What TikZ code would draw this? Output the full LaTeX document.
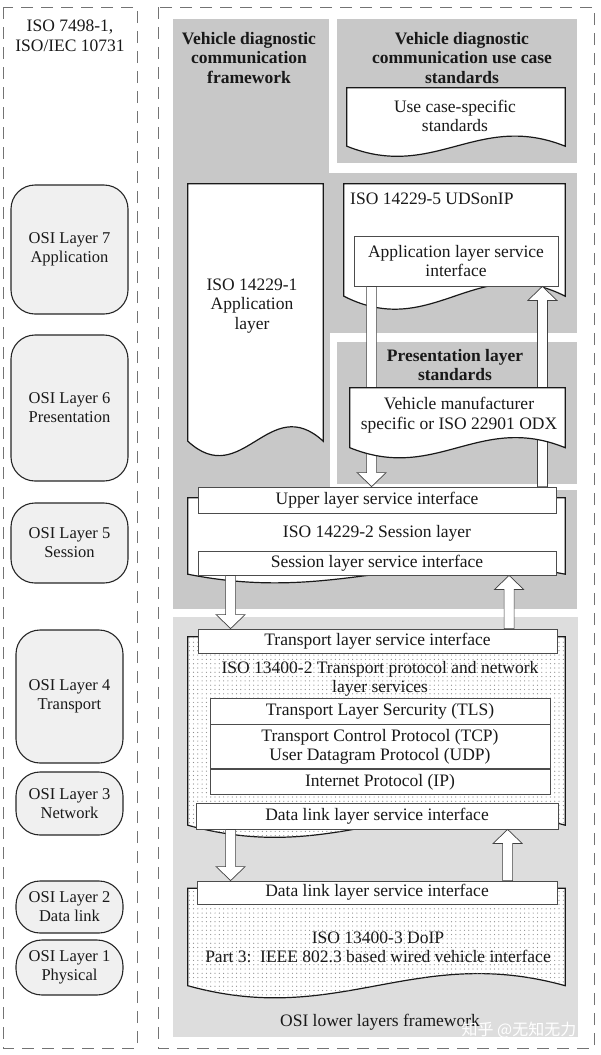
\documentclass[tikz,border=0pt]{standalone}
\usepackage{fontspec}
\setmainfont{Liberation Serif}
\newfontfamily\cjkfont{Noto Sans CJK SC}
\usetikzlibrary{calc,positioning,patterns.meta}
\definecolor{framegray}{RGB}{200,200,200}
\definecolor{lowgray}{RGB}{221,221,221}
\definecolor{osifill}{RGB}{240,240,240}
\newcommand{\wavydoc}[3][docfill]{%
  \draw[#1] (#2.south west) -- (#2.north west) -- (#2.north east) -- (#2.south east)
    .. controls ($(#2.south west)!0.6!(#2.south east)+(0,-#3)$) and ($(#2.south west)!0.4!(#2.south east)+(0,#3)$) .. (#2.south west) -- cycle;}
\begin{document}
\begin{tikzpicture}[x=1pt,y=-1pt]
        \tikzstyle{every node}=[font=\fontsize{17.5}{19.5}\selectfont, text=black!90, inner sep=0pt, align=center]
        \tikzstyle{frame}=[draw=black!55, line width=0.9pt, dash pattern=on 12pt off 8pt]
        \tikzstyle{osi}=[draw=black!85, line width=1.1pt, fill=osifill, rounded corners=24pt, minimum width=117, font=\fontsize{16.5}{19}\selectfont]
        \tikzstyle{heading}=[font=\bfseries\fontsize{17.5}{19.5}\selectfont]
        \tikzstyle{docgeom}=[minimum width=217, minimum height=58]
        \tikzstyle{docfill}=[draw=black!90, line width=1.2pt, fill=white]
        \tikzstyle{dotfill}=[docfill, postaction={pattern={Dots[distance=4.3pt,radius=0.6pt]}, pattern color=black!45}]
        \tikzstyle{iface}=[draw=black!70, line width=0.8pt, fill=white, minimum width=358, minimum height=24]
        \tikzstyle{stackrow}=[draw=black!70, line width=0.8pt, fill=white, minimum width=340]
        \tikzstyle{hollow}=[draw=black!75, line width=0.7pt, fill=white, to path={let \p1=(\tikztostart), \p2=(\tikztotarget), \n1={ifthenelse(\y1>\y2,14,-14)} in ({\x1-5pt},\y1) -- ({\x1-5pt},{\y2+\n1*1pt}) -- ({\x1-14.5pt},{\y2+\n1*1pt}) -- (\x1,\y2) -- ({\x1+14.5pt},{\y2+\n1*1pt}) -- ({\x1+5pt},{\y2+\n1*1pt}) -- ({\x1+5pt},\y1) -- cycle}]
        \useasboundingbox (0,0) rectangle (600,1055);
        \draw[frame] (3,7) rectangle (137,1048);
        \draw[frame] (158,7) rectangle (594,1048);
        \fill[framegray] (173,19) rectangle (577,609);
        \fill[white] (329,19) rectangle (578,173);
        \fill[framegray] (337,19) rectangle (577,163);
        \fill[white] (330,333) rectangle (578,490);
        \fill[framegray] (337,342) rectangle (577,484);
        \fill[lowgray] (173,617) rectangle (578,1037);

        \node (norm) at (70,36) {ISO 7498-1,\\ISO/IEC 10731};
        \node [osi, minimum height=129] (osi7) at (69.5,249.5) {OSI Layer 7\\Application};
        \node [osi, minimum height=146] (osi6) at (69.5,408) {OSI Layer 6\\Presentation};
        \node [osi, minimum height=80] (osi5) at (69.5,543) {OSI Layer 5\\Session};
        \node [osi, minimum width=107, minimum height=133] (osi4) at (69.5,696.5) {OSI Layer 4\\Transport};
        \node [osi, minimum width=107, minimum height=63] (osi3) at (69.5,803.5) {OSI Layer 3\\Network};
        \node [osi, minimum width=107, minimum height=52] (osi2) at (69.5,907) {OSI Layer 2\\Data link};
        \node [osi, minimum width=107, minimum height=55, rounded corners=26pt] (osi1) at (69.5,967.5) {OSI Layer 1\\Physical};

        \node [heading] (fwhead) at (249,58) {Vehicle diagnostic\\communication\\framework};
        \node [heading] (ushead) at (462,58) {Vehicle diagnostic\\communication use case\\standards};
        \node [docgeom, minimum width=218] (usecase) at (456,117) {};
        \wavydoc{usecase}{35}
        \node (usecasetxt) at (455,116) {Use case-specific\\standards};

        \node [docgeom, minimum width=135, minimum height=257] (appl) at (255.5,312.5) {};
        \wavydoc{appl}{50}
        \node (appltxt) at (252,306) {ISO 14229-1\\Application\\layer};

        \node [docgeom, minimum width=221, minimum height=112] (uds) at (454.5,240) {};
        \wavydoc{uds}{45}
        \node [anchor=west] (udstxt) at (350,199) {ISO 14229-5 UDSonIP};
        \node [iface, minimum width=204, minimum height=50] (api) at (456,261) {Application layer service\\interface};

        \node [docgeom, minimum width=377, minimum height=76] (session) at (376.5,536) {};
        \wavydoc{session}{30}
        \node [iface, minimum height=26] (upper) at (377,500) {Upper layer service interface};
        \node (sessiontxt) at (377,533) {ISO 14229-2 Session layer};
        \node [iface] (sessif) at (377,563) {Session layer service interface};

        \coordinate (a1s) at ($(api.south west)+(18,0)$);
        \coordinate (a2s) at ($(upper.north east)+(-14,0)$);
        \draw[hollow] (a1s) to (a1s |- upper.north);
        \draw[hollow] (a2s) to (a2s |- api.south);

        \node [heading] (preshead) at (455,365) {Presentation layer\\standards};
        \node [docgeom, minimum width=215, minimum height=59.5] (odx) at (457.5,417.75) {};
        \wavydoc{odx}{35}
        \node (odxtxt) at (459,415) {Vehicle manufacturer\\specific or ISO 22901 ODX};

        \node [docgeom, minimum width=377, minimum height=188] (transport) at (376.5,731) {};
        \wavydoc[dotfill]{transport}{42}
        \node [iface, minimum width=359] (transif) at (377.5,641) {Transport layer service interface};
        \node (transtxt) at (380,679) {ISO 13400-2 Transport protocol and network\\layer services};
        \node [stackrow, minimum height=26] (tls) at (380,711) {Transport Layer Sercurity (TLS)};
        \node [stackrow, minimum height=44, below=0pt of tls] (tcp) {Transport Control Protocol (TCP)\\User Datagram Protocol (UDP)};
        \node [stackrow, minimum height=25, below=0pt of tcp] (ip) {Internet Protocol (IP)};
        \node [iface, minimum width=362, minimum height=26] (dlup) at (377,816) {Data link layer service interface};

        \node [docgeom, minimum width=377, minimum height=97] (doip) at (376.5,937) {};
        \wavydoc[dotfill]{doip}{42}
        \node [iface, minimum width=360, minimum height=23] (dllow) at (377,892.5) {Data link layer service interface};
        \node (doiptxt) at (378,947.5) {ISO 13400-3 DoIP\\Part 3:\ \ IEEE 802.3 based wired vehicle interface};
        \node (lowlabel) at (380,1022) {OSI lower layers framework};
        \node [font=\cjkfont\fontsize{16}{16}\selectfont, text=white] (mark) at (519,1030) {知乎 @无知无力};

        \coordinate (a3s) at ($(sessif.south west)+(33,0)$);
        \coordinate (a4s) at ($(transif.north west)+(311.5,0)$);
        \coordinate (a5s) at ($(dlup.south west)+(35,0)$);
        \coordinate (a6s) at ($(dllow.north west)+(311,0)$);
        \draw[hollow] (a3s) to (a3s |- transif.north);
        \draw[hollow] (a4s) to (a4s |- sessif.south);
        \draw[hollow] (a5s) to (a5s |- dllow.north);
        \draw[hollow] (a6s) to (a6s |- dlup.south);
\end{tikzpicture}
\end{document}
